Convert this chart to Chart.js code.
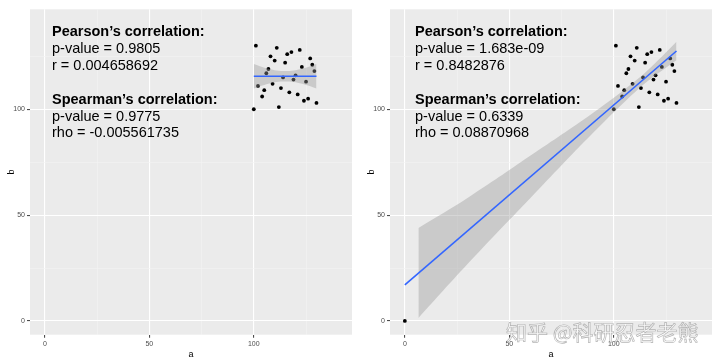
<!DOCTYPE html>
<html>
<head>
<meta charset="utf-8">
<script src="https://cdn.jsdelivr.net/npm/chart.js@4.4.1/dist/chart.umd.min.js"></script>
<style>
  body { margin: 0; background: #fff; width: 720px; height: 360px; position: relative; overflow: hidden; }
  .panel { position: absolute; top: 0; width: 360px; height: 360px; }
  #wm {
    position: absolute; left: 506px; top: 316px;
    font: 21px "Noto Sans CJK SC", sans-serif;
    color: rgba(255,255,255,0.8);
    -webkit-text-stroke: 0.7px rgba(110,110,110,0.5);
    white-space: nowrap;
  }
</style>
</head>
<body>
<div class="panel" style="left:0"><canvas id="leftChart" width="360" height="360"></canvas></div>
<div class="panel" style="left:360px"><canvas id="rightChart" width="360" height="360"></canvas></div>
<div id="wm">知乎 @科研忍者老熊</div>
<script>
// ─── Data ─────────────────────────────────────────────────────────────────────
const aValues = [101, 111, 108, 110, 116, 118, 122, 115, 127, 128, 123, 107, 106, 129, 120,
                 114, 119, 125, 109, 102, 113, 105, 117, 121, 104, 126, 124, 130, 100, 112];
const bValues = [130, 129, 125, 123, 126, 127, 128, 122, 124, 121, 120, 119, 117, 118, 116,
                 115, 114, 113, 112, 111, 110, 109, 108, 107, 106, 105, 104, 103, 100, 101];
// extra point present only in the right panel
const outlierA = [0];
const outlierB = [0];

// left panel: flat fit and its confidence band
const leftFitX = [100, 130];
const leftFitY = [115.6, 115.6];
const leftBandX = [100, 104, 108, 112, 115, 118, 122, 126, 130];
const leftBandUpper = [121.4, 120.0, 118.9, 118.2, 118.1, 118.2, 118.9, 120.0, 121.4];
const leftBandLower = [109.8, 111.2, 112.3, 113.0, 113.1, 113.0, 112.3, 111.2, 109.8];

// right panel: fit with the outlier and its confidence band
const rightFitX = [0, 130];
const rightFitY = [17, 127.5];
const rightBandX = [6.5, 30, 60, 90, 111, 120, 130];
const rightBandUpper = [43.9, 58.1, 78.0, 98.2, 113.9, 122.0, 131.9];
const rightBandLower = [1.4, 26.9, 58.0, 88.8, 108.9, 116.0, 123.1];

const gridValues = [0, 25, 50, 75, 100, 125];
const xTickValues = [0, 50, 100];
const xTickLabels = ['0', '50', '100'];
const yTickValues = [0, 50, 100];
const yTickLabels = ['0', '50', '100'];

const leftStats = [
  { text: 'Pearson\u2019s correlation:', bold: true, row: 0 },
  { text: 'p-value = 0.9805', row: 1 },
  { text: 'r = 0.004658692', row: 2 },
  { text: 'Spearman\u2019s correlation:', bold: true, row: 4 },
  { text: 'p-value = 0.9775', row: 5 },
  { text: 'rho = -0.005561735', row: 6 },
];
const rightStats = [
  { text: 'Pearson\u2019s correlation:', bold: true, row: 0 },
  { text: 'p-value = 1.683e-09', row: 1 },
  { text: 'r = 0.8482876', row: 2 },
  { text: 'Spearman\u2019s correlation:', bold: true, row: 4 },
  { text: 'p-value = 0.6339', row: 5 },
  { text: 'rho = 0.08870968', row: 6 },
];

// ─── Helpers ──────────────────────────────────────────────────────────────────
const zip = (xs, ys) => xs.map((x, i) => ({ x, y: ys[i] }));

const panelBg = {
  id: 'panelBg',
  beforeDraw(chart) {
    const { ctx, chartArea: a } = chart;
    ctx.save();
    ctx.fillStyle = '#ebebeb';
    ctx.fillRect(a.left, a.top, a.right - a.left, a.bottom - a.top);
    ctx.restore();
  },
};

const statText = {
  id: 'statText',
  afterDraw(chart, args, opts) {
    const ctx = chart.ctx;
    ctx.save();
    ctx.fillStyle = '#000';
    ctx.textBaseline = 'middle';
    opts.lines.forEach((l) => {
      ctx.font = (l.bold ? 'bold ' : '') + '14.5px "Liberation Sans", Arial, sans-serif';
      ctx.fillText(l.text, opts.x, opts.y0 + l.row * 16.9);
    });
    ctx.restore();
  },
};

function axis(title, tickValues, tickLabels, min, max, horizontal) {
  return {
    type: 'linear',
    min, max,
    afterBuildTicks: (s) => { s.ticks = gridValues.map((v) => ({ value: v })); },
    afterFit: (s) => { if (horizontal) s.height = 25.3; else s.width = 30; },
    border: { display: false },
    grid: {
      color: (c) => (c.tick && c.tick.value % 50 === 0 ? '#ffffff' : '#f4f4f4'),
      lineWidth: (c) => (c.tick && c.tick.value % 50 === 0 ? 1.1 : 0.6),
      tickColor: (c) => (c.tick && c.tick.value % 50 === 0 ? '#4d4d4d' : 'rgba(0,0,0,0)'),
      tickLength: 3,
    },
    ticks: {
      autoSkip: false,
      maxRotation: 0,
      padding: 2,
      color: '#4d4d4d',
      font: { family: 'Liberation Sans', size: 7 },
      callback: (v) => {
        const i = tickValues.indexOf(v);
        return i >= 0 ? tickLabels[i] : '';
      },
    },
    title: {
      display: true,
      text: title,
      color: '#000',
      font: { family: 'Liberation Sans', size: 9 },
      padding: { top: horizontal ? 4 : 6, bottom: 0 },
    },
  };
}

function makeChart(id, pts, fitX, fitY, bandX, bandUp, bandLo, stats, textX) {
  new Chart(document.getElementById(id), {
    type: 'scatter',
    data: {
      datasets: [
        {
          type: 'line',
          data: zip(fitX, fitY),
          borderColor: '#3366ff',
          borderWidth: 1.6,
          pointRadius: 0,
          fill: false,
          order: 0,
        },
        {
          type: 'line',
          data: zip(bandX, bandUp),
          borderWidth: 0,
          borderColor: 'rgba(0,0,0,0)',
          pointRadius: 0,
          tension: 0.4,
          fill: false,
          order: 1,
        },
        {
          type: 'line',
          data: zip(bandX, bandLo),
          borderWidth: 0,
          borderColor: 'rgba(0,0,0,0)',
          backgroundColor: 'rgba(153,153,153,0.4)',
          pointRadius: 0,
          tension: 0.4,
          fill: '-1',
          order: 1,
        },
        {
          data: pts,
          backgroundColor: '#000',
          borderWidth: 0,
          pointRadius: 1.9,
          order: 2,
        },
      ],
    },
    options: {
      responsive: false,
      animation: false,
      events: [],
      layout: { padding: { top: 9.3, right: 8, left: 0, bottom: 0 } },
      plugins: {
        legend: { display: false },
        tooltip: { enabled: false },
        statText: { lines: stats, x: textX, y0: 32 },
      },
      scales: {
        x: axis('a', xTickValues, xTickLabels, -7.1, 147, true),
        y: axis('b', yTickValues, yTickLabels, -6.5, 147.2, false),
      },
    },
    plugins: [panelBg, statText],
  });
}

const leftPoints = zip(aValues, bValues);
const rightPoints = zip(outlierA.concat(aValues), outlierB.concat(bValues));

makeChart('leftChart', leftPoints, leftFitX, leftFitY, leftBandX, leftBandUpper, leftBandLower, leftStats, 52);
makeChart('rightChart', rightPoints, rightFitX, rightFitY, rightBandX, rightBandUpper, rightBandLower, rightStats, 55);
</script>
</body>
</html>
